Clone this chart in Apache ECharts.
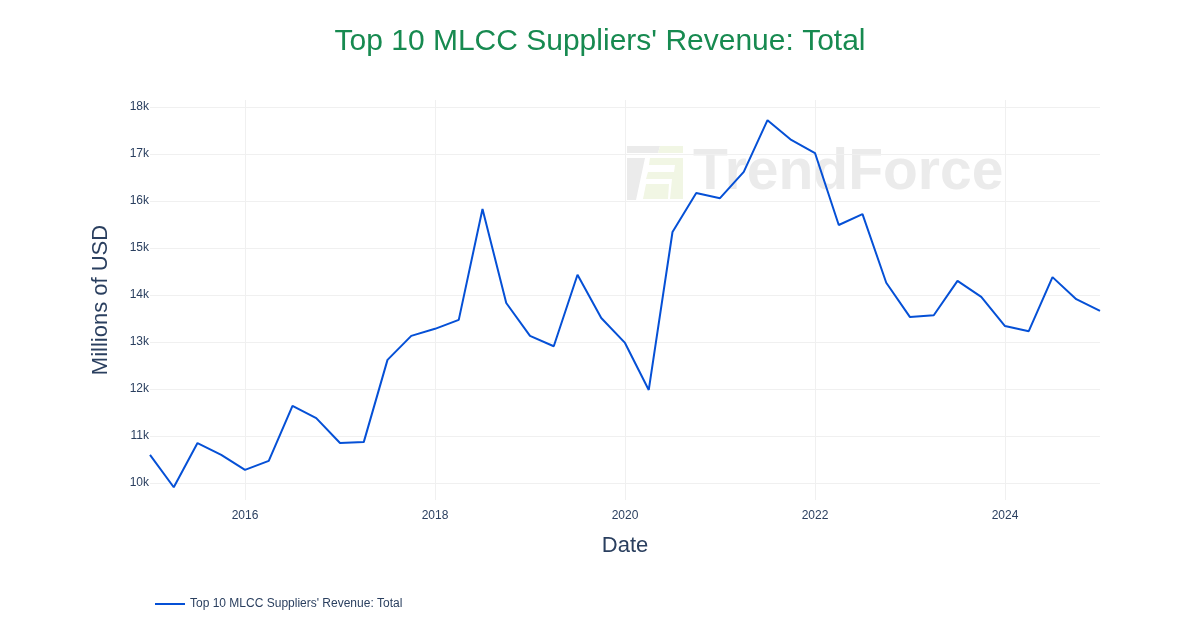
<!DOCTYPE html>
<html>
<head>
<meta charset="utf-8">
<script src="https://cdn.jsdelivr.net/npm/echarts@6/dist/echarts.min.js"></script>
<style>
  html, body { margin: 0; padding: 0; background: #fff; }
  #chart { width: 1200px; height: 630px; }
</style>
</head>
<body>
<div id="chart"></div>
<script>
// quarterly revenue, millions of USD
var quarters = [
    '2015-01', '2015-04', '2015-07', '2015-10',
    '2016-01', '2016-04', '2016-07', '2016-10',
    '2017-01', '2017-04', '2017-07', '2017-10',
    '2018-01', '2018-04', '2018-07', '2018-10',
    '2019-01', '2019-04', '2019-07', '2019-10',
    '2020-01', '2020-04', '2020-07', '2020-10',
    '2021-01', '2021-04', '2021-07', '2021-10',
    '2022-01', '2022-04', '2022-07', '2022-10',
    '2023-01', '2023-04', '2023-07', '2023-10',
    '2024-01', '2024-04', '2024-07', '2024-10',
    '2025-01'
];
var revenue = [
    10600, 9910, 10850, 10600,
    10280, 10470, 11640, 11380,
    10850, 10870, 12620, 13130,
    13280, 13470, 15830, 13830,
    13130, 12910, 14430, 13510,
    12980, 11980, 15340, 16170,
    16060, 16620, 17720, 17300,
    17020, 15490, 15720, 14260,
    13530, 13570, 14300, 13960,
    13340, 13230, 14380, 13910,
    13660
];
var yearTicks = [2016, 2018, 2020, 2022, 2024];
var valueTicks = [10000, 11000, 12000, 13000, 14000, 15000, 16000, 17000, 18000];

var seriesName = "Top 10 MLCC Suppliers' Revenue: Total";
var fontFamily = '"Liberation Sans", Arial, sans-serif';
var textColor = '#2a3f5f';
var markGray = '#ebebeb';
var markGreen = '#f1f6e4';

// '2016-04' -> 2016.25 (fractional year for the value axis)
function toYear(s){
    var p = s.split('-');
    return +p[0] + (+p[1] - 1) / 12;
}

var chart = echarts.init(document.getElementById('chart'));

var option = {
    backgroundColor: '#fff',
    animation: false,
    textStyle: { fontFamily: fontFamily },
    title: {
        text: seriesName,
        left: 'center',
        top: 22,
        textStyle: {
            color: '#178a50',
            fontSize: 30,
            fontWeight: 'normal',
            fontFamily: fontFamily
        }
    },
    legend: {
        left: 150,
        top: 593,
        itemWidth: 30,
        itemHeight: 2,
        itemGap: 10,
        icon: 'rect',
        textStyle: { color: textColor, fontSize: 12 },
        data: [seriesName]
    },
    grid: {
        left: 150,
        right: 100,
        top: 100,
        bottom: 130,
        containLabel: false
    },
    // TrendForce watermark
    graphic: [
        {
            type: 'text',
            left: 693,
            top: 145,
            z: 0,
            style: {
                text: 'TrendForce',
                fill: markGray,
                font: 'bold 57px "Liberation Sans", Arial, sans-serif'
            }
        },
        {
            type: 'polygon', z: 0,
            shape: { points: [[627, 146], [660, 146], [658, 153], [627, 153]] },
            style: { fill: markGray }
        },
        {
            type: 'polygon', z: 0,
            shape: { points: [[627, 158], [645, 158], [636, 200], [627, 200]] },
            style: { fill: markGray }
        },
        {
            type: 'polygon', z: 0,
            shape: { points: [[660, 146], [683, 146], [683, 153], [658, 153]] },
            style: { fill: markGreen }
        },
        {
            type: 'polygon', z: 0,
            shape: { points: [[650, 158], [683, 158], [683, 199], [670, 199], [672, 179], [646, 179], [648, 172], [674, 172], [675, 165], [649, 165]] },
            style: { fill: markGreen }
        },
        {
            type: 'polygon', z: 0,
            shape: { points: [[646, 184], [669, 184], [668, 199], [643, 199]] },
            style: { fill: markGreen }
        }
    ],
    xAxis: {
        type: 'value',
        min: 2015,
        max: 2025,
        name: 'Date',
        nameLocation: 'middle',
        nameGap: 35,
        nameTextStyle: { color: textColor, fontSize: 22 },
        axisLine: { show: false },
        axisTick: { show: false, customValues: yearTicks },
        axisLabel: {
            color: textColor,
            fontSize: 12,
            margin: 10,
            customValues: yearTicks,
            formatter: function(v){ return String(v); }
        },
        splitLine: { show: true, lineStyle: { color: '#f0f0f0', width: 1 } }
    },
    yAxis: {
        type: 'value',
        min: 9638,
        max: 18149,
        name: 'Millions of USD',
        nameLocation: 'middle',
        nameGap: 38,
        nameTextStyle: { color: textColor, fontSize: 22 },
        axisLine: { show: false },
        axisTick: { show: false, customValues: valueTicks },
        axisLabel: {
            color: textColor,
            fontSize: 12,
            margin: 1,
            customValues: valueTicks,
            formatter: function(v){ return (v / 1000) + 'k'; }
        },
        splitLine: { show: true, lineStyle: { color: '#f0f0f0', width: 1 } }
    },
    series: [
        {
            name: seriesName,
            type: 'line',
            symbol: 'none',
            color: '#0550d6',
            lineStyle: { width: 2 },
            data: quarters.map(function(q, i){ return [toYear(q), revenue[i]]; })
        }
    ]
};

chart.setOption(option);
</script>
</body>
</html>
